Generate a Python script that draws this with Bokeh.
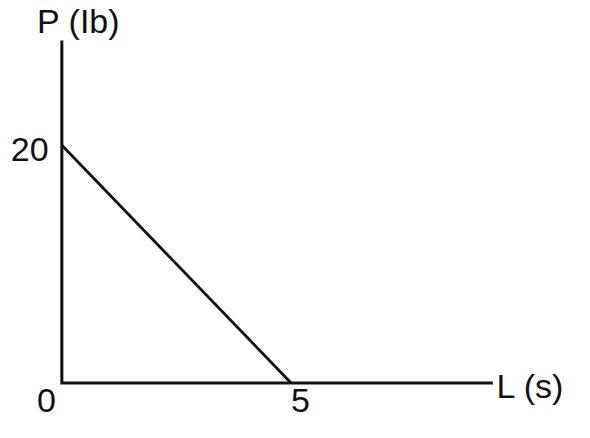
from bokeh.plotting import figure
from bokeh.models import ColumnDataSource
from bokeh.core.properties import value
from bokeh.embed import file_html
from bokeh.resources import INLINE

# data: load P (lb) falls linearly with length L (s)
L_values = [0, 5]
P_values = [20, 0]

# axis extents of the sketch (no arrows)
L_axis_end = 9.4
P_axis_end = 28.8

# tick labels
x_tick_values = [0, 5]
x_tick_labels = ["0", "5"]
y_tick_values = [20]
y_tick_labels = ["20"]

x_title = "L (s)"
y_title = "P (Ib)"

INK = "#111111"
FONT = "Liberation Sans"

p = figure(width=574, height=422, x_range=(-1.338, 11.18), y_range=(-3.32, 32.17),
           output_backend="svg", toolbar_location=None,
           x_axis_location=None, y_axis_location=None, min_border=0)
p.outline_line_color = None
p.grid.visible = False

# axes drawn as one polyline so the corner is a clean miter
p.line([0, 0, L_axis_end], [P_axis_end, 0, 0], line_color=INK,
       line_width=3, line_join="miter")

src = ColumnDataSource(data=dict(L=L_values, P=P_values))
p.line("L", "P", source=src, line_color=INK, line_width=2.8)

txt = dict(text_font=value(FONT), text_font_size="34px", text_color=INK,
           text_baseline="middle")

# "20" left of the y axis
p.text(x=[-0.29], y=[y_tick_values[0] - 0.32], text=y_tick_labels,
       text_align="right", **txt)

# "0" sits left-below the origin, "5" just right of its position
p.text(x=[-0.54, x_tick_values[1]], y=[-1.5, -1.5], text=x_tick_labels,
       text_align="left", **txt)

# axis titles
p.text(x=[-0.54], y=[30.45], text=[y_title], text_align="left", **txt)
p.text(x=[9.48], y=[-0.24], text=[x_title], text_align="left", **txt)

open("out.html", "w").write(file_html(p, INLINE))
